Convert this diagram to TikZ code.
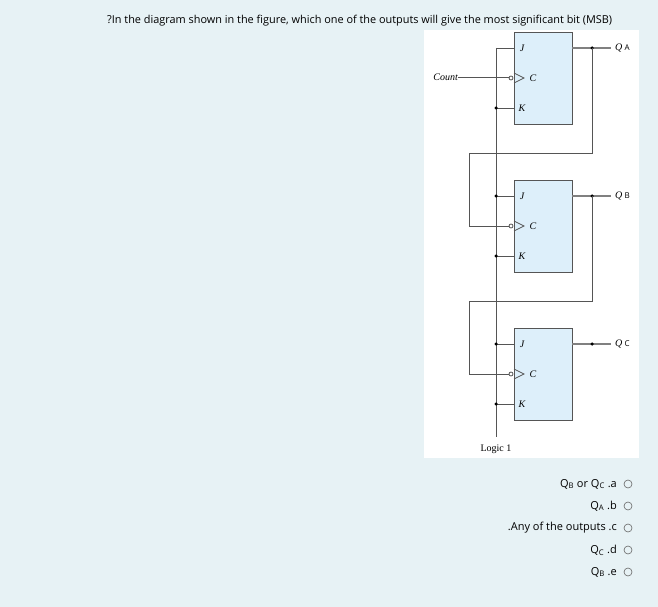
\documentclass[tikz,border=0pt]{standalone}
\usepackage{fontspec}
\setmainfont{Open Sans}
\newfontfamily\serifit{Liberation Serif}
\definecolor{bgc}{HTML}{E7F2F5}
\definecolor{boxc}{HTML}{DDEFFA}
\definecolor{wire}{HTML}{555555}
\tikzset{
  ff/.style={draw=wire,fill=boxc,line width=0.9pt,minimum width=58pt,minimum height=92pt,inner sep=0pt},
  w/.style={draw=wire,line width=0.8pt},
  pin/.style={font=\serifit\itshape\fontsize{10}{10}\selectfont,inner sep=0pt},
  dot/.style={circle,fill=black,inner sep=0pt,minimum size=3.5pt},
  opt/.style={anchor=east,font=\fontsize{11}{11}\selectfont,inner sep=0pt},
  radio/.style={circle,draw=gray!80!black,line width=0.6pt,minimum size=8pt,inner sep=0pt}
}
\begin{document}
\begin{tikzpicture}[x=1pt,y=-1pt]
\useasboundingbox (0,0) rectangle (658,607);
\fill[bgc] (0,0) rectangle (658,607);
\fill[white] (424,30) rectangle (639,458);
\node[anchor=west,font=\fontsize{10.9}{11}\selectfont,inner sep=0pt] (title) at (107,21) {?In the diagram shown in the figure, which one of the outputs will give the most significant bit (MSB)};
% flip-flops
\node[ff] (A) at (543,78) {};
\node[ff] (B) at (543,226) {};
\node[ff] (C) at (543,374) {};
\foreach \f/\y in {A/78,B/226,C/374}{
  \node[pin] (\f J) at (522,\y-30) {J};
  \node[pin] (\f C) at (533,\y) {C};
  \node[pin] (\f K) at (522,\y+30) {K};
  \draw[w] (514,\y-5) -- (524,\y) -- (514,\y+5);
  \draw[w] (511,\y) circle (2pt);
}
% logic 1 line
\coordinate (L1top) at (496,48);
\coordinate (L1bot) at (496,437);
\node[font=\serifit\fontsize{10}{10}\selectfont,inner sep=0pt] (logic) at (496,449) {Logic 1};
\draw[w] (L1top) -- (L1bot);
\draw[w] (L1top) -- (A.west |- L1top);
\foreach \j in {196,344}{ \draw[w] (496,\j) -- (514,\j); \node[dot] at (496,\j) {}; }
\foreach \k in {108,256,404}{ \draw[w] (496,\k) -- (514,\k); \node[dot] at (496,\k) {}; }
% count
\node[font=\serifit\itshape\fontsize{10}{10}\selectfont,inner sep=0pt,anchor=east] (count) at (458,77) {Count};
\draw[w] (count.east) -- (509,77);
% outputs
\foreach \f/\y/\l in {A/48/A,B/196/B,C/344/C}{
  \draw[draw=gray,line width=1.2pt] (\f.east |- 0,\y) -- (611,\y);
  \node[dot] at (592,\y) {};
  \node[anchor=west,inner sep=0pt,font=\fontsize{8}{8}\selectfont] (Q\l) at (615,\y) {{\serifit\itshape\fontsize{10}{10}\selectfont Q} \l};
}
\draw[w] (592,48) -- (592,153) -- (469,153) -- (469,226) -- (509,226);
\draw[w] (592,196) -- (592,301) -- (469,301) -- (469,374) -- (509,374);
% options
\foreach \t/\y in {{Q\textsubscript{B} or Q\textsubscript{C} .a}/484,{Q\textsubscript{A} .b}/506,{.Any of the outputs .c}/528,{Q\textsubscript{C} .d}/550,{Q\textsubscript{B} .e}/572}{
  \node[opt] at (617,\y) {\t};
  \node[radio] at (628,\y) {};
}
\end{tikzpicture}
\end{document}
